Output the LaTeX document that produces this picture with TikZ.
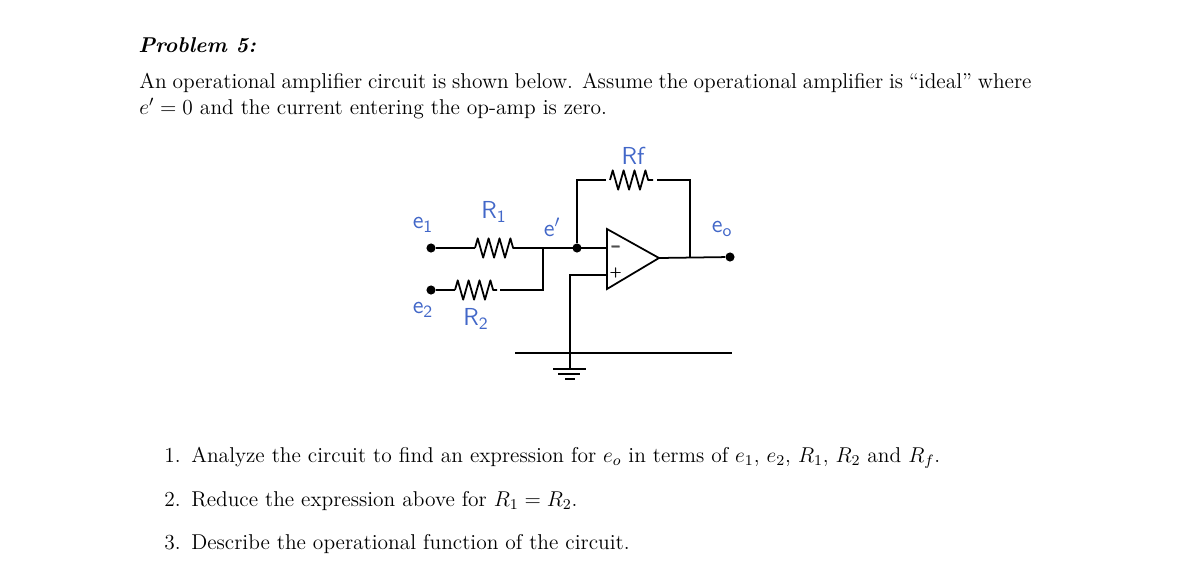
\documentclass[tikz,border=0pt]{standalone}
\usepackage{fix-cm}
\usepackage{amsmath}
\usetikzlibrary{decorations.pathmorphing}
\definecolor{inkblue}{RGB}{66,103,200}
\tikzset{
  wire/.style={black,line width=1pt},
  res/.style={wire,line join=round,decorate,decoration={zigzag,segment length=6.2pt,amplitude=5.5pt}},
  term/.style={circle,fill=black,inner sep=0pt,minimum size=5.2pt},
  hand/.style={inkblue,font=\sffamily\fontsize{14}{16}\selectfont},
  txt/.style={anchor=base west,inner sep=0pt,font=\fontsize{12.2}{14.5}\selectfont}
}
\begin{document}
\begin{tikzpicture}[x=0.02cm,y=-0.02cm]
    \useasboundingbox (0,0) rectangle (1179,572);
    % text
    \node[txt] (title) at (138,52) {\bfseries\itshape Problem 5:};
    \node[txt] (line1) at (139,88) {\makebox[507.8pt][s]{An operational amplifier circuit is shown below. Assume the operational amplifier is ``ideal'' where}};
    \node[txt] (line2) at (139,114) {$e'=0$ and the current entering the op-amp is zero.};
    \node[txt] (num1) at (164,462) {1.};
    \node[txt] (item1) at (191,462) {Analyze the circuit to find an expression for $e_o$ in terms of $e_1$, $e_2$, $R_1$, $R_2$ and $R_f$.};
    \node[txt] (num2) at (164,506) {2.};
    \node[txt] (item2) at (191,506) {Reduce the expression above for $R_1=R_2$.};
    \node[txt] (num3) at (164,549) {3.};
    \node[txt] (item3) at (191,549) {Describe the operational function of the circuit.};
    % points of the circuit
    \node[term] (e1) at (431,248) {};
    \node[term] (e2) at (431,290) {};
    \node[term] (eo) at (730,257) {};
    \node[term] (ep) at (577,248) {};
    \coordinate (r1a) at (475,248);
    \coordinate (r1b) at (518,248);
    \coordinate (r2a) at (455,290);
    \coordinate (r2b) at (497,290);
    \coordinate (rfa) at (610,180);
    \coordinate (rfb) at (653,180);
    \coordinate (jn) at (543,248);
    \coordinate (jn2) at (543,290);
    \coordinate (fbl) at (577,180);
    \coordinate (fbr) at (690,180);
    \coordinate (fbo) at (690,258);
    \coordinate (tl) at (607,229);
    \coordinate (bl) at (607,289);
    \coordinate (tip) at (659,258);
    \coordinate (inm) at (607,248);
    \coordinate (inp) at (607,275);
    \coordinate (gt) at (570,275);
    \coordinate (gnd) at (570,369);
    % op-amp
    \draw[wire,line join=miter] (tl)--(tip)--(bl)--cycle;
    \node[inner sep=0pt,font=\scriptsize] (minus) at (616,247) {$\pmb{-}$};
    \node[inner sep=0pt,font=\footnotesize] (plus) at (616,273) {$\pmb{+}$};
    % wires
    \draw[wire] (e1)--(r1a);
    \draw[res] (r1a)--(r1b);
    \draw[wire] (r1b)--(inm);
    \draw[wire] (e2)--(r2a);
    \draw[res] (r2a)--(r2b);
    \draw[wire] (500,290)--(jn2)--(jn);
    \draw[wire] (ep)--(fbl)--(606,180);
    \draw[res] (rfa)--(rfb);
    \draw[wire] (657,180)--(fbr)--(fbo);
    \draw[wire] (tip)--(eo);
    \draw[wire] (inp)--(gt)--(gnd);
    % ground
    \draw[wire] (515,353)--(732,353);
    \draw[wire] (553,369)--(586,369);
    \draw[wire] (558,374)--(580,374);
    \draw[wire] (565,379)--(575,379);
    % handwritten labels
    \node[hand] (le1) at (423,225) {$\mathsf{e}_{\mathsf{1}}$};
    \node[hand] (le2) at (423,310) {$\mathsf{e}_{\mathsf{2}}$};
    \node[hand] (lr1) at (494,212) {$\mathsf{R}_{\mathsf{1}}$};
    \node[hand] (lr2) at (476,319) {$\mathsf{R}_{\mathsf{2}}$};
    \node[hand] (lep) at (552,227) {$\mathsf{e}'$};
    \node[hand] (lrf) at (633,156) {Rf};
    \node[hand] (leo) at (722,229) {$\mathsf{e}_{\mathsf{o}}$};
\end{tikzpicture}
\end{document}
